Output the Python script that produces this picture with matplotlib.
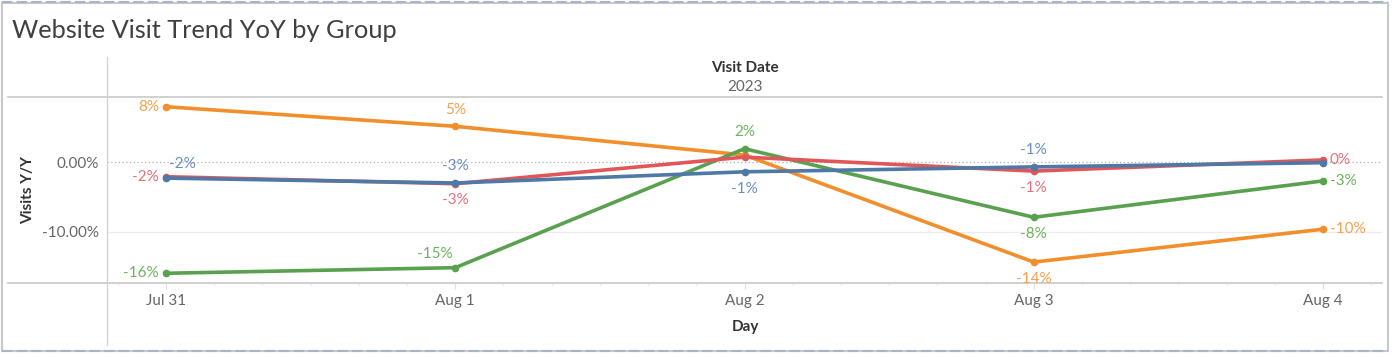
import matplotlib.pyplot as plt
from matplotlib.lines import Line2D
from matplotlib.patches import Rectangle
import matplotlib.ticker as mticker

plt.rcParams['font.family'] = ['Lato', 'DejaVu Sans']

# data
days = ['Jul 31', 'Aug 1', 'Aug 2', 'Aug 3', 'Aug 4']
orange_vals = [7.9, 5.1, 1.0, -14.3, -9.6]
red_vals = [-2.1, -3.1, 0.7, -1.3, 0.3]
blue_vals = [-2.3, -3.0, -1.4, -0.7, -0.1]
green_vals = [-15.9, -15.1, 1.9, -7.9, -2.7]

# label placement per point: (text, position) ; None = no label
orange_labels = [('8%', 'left'), ('5%', 'above'), None, ('-14%', 'below'), ('-10%', 'right')]
red_labels = [('-2%', 'left'), ('-3%', 'below'), None, ('-1%', 'below'), ('0%', 'right')]
blue_labels = [('-2%', 'aboveright'), ('-3%', 'above'), ('-1%', 'below'), ('-1%', 'above'), None]
green_labels = [('-16%', 'left'), ('-15%', 'aboveleft'), ('2%', 'above'), ('-8%', 'below'), ('-3%', 'right')]

series = [
    (orange_vals, orange_labels, '#F28E2B', '#F5A04B'),
    (green_vals, green_labels, '#59A14F', '#6DB35F'),
    (red_vals, red_labels, '#E15759', '#E8707A'),
    (blue_vals, blue_labels, '#4E79A7', '#6A8FC0'),
]

W, H = 1393, 357
fig = plt.figure(figsize=(W / 100, H / 100), dpi=100)

def fx(px):
    return px / W

def fy(py):
    return 1 - py / H

# outer border
fig.add_artist(Rectangle((fx(2), fy(351)), fx(1386), (351 - 3) / H, transform=fig.transFigure,
                         fill=False, edgecolor='#c8c8c8', linewidth=1.5))
fig.add_artist(Line2D([fx(2), fx(1388)], [fy(2), fy(2)], transform=fig.transFigure,
                      color='#aab4c8', linewidth=1.5, linestyle=(0, (5, 2))))
fig.add_artist(Line2D([fx(2), fx(1388)], [fy(351), fy(351)], transform=fig.transFigure,
                      color='#aab4c8', linewidth=1.5, linestyle=(0, (5, 2))))

fig.text(fx(12), fy(30), 'Website Visit Trend YoY by Group', fontsize=18.3, color='#404040',
         ha='left', va='center')

ax = fig.add_axes([fx(107), fy(283), fx(1382 - 107), (283 - 97) / H])
x = list(range(len(days)))
ax.set_xlim(-0.204, 4.204)
ax.set_ylim(-17.29, 9.29)

for s in ['top', 'right', 'left']:
    ax.spines[s].set_visible(False)
ax.spines['bottom'].set_color('#c8c8c8')
ax.spines['bottom'].set_linewidth(1.2)

ax.axhline(0, color='#b0b0b0', linewidth=0.9, linestyle=(0, (1, 2)), zorder=1)
ax.axhline(-10, color='#ececec', linewidth=1, zorder=1)

ax.set_yticks([0, -10])
ax.yaxis.set_major_formatter(mticker.FuncFormatter(lambda v, p: f'{v:.2f}%'))
ax.tick_params(axis='y', length=0, labelsize=11, labelcolor='#666666', pad=6)
ax.set_xticks(x)
ax.set_xticklabels(days)
ax.tick_params(axis='x', length=4, color='#e0e0e0', labelsize=11, labelcolor='#666666', pad=4)
ax.set_xticks([i / 6 for i in range(-1, 26)], minor=True)
ax.tick_params(axis='x', which='minor', length=2, color='#ececec')

offsets = {
    'left': (-5, 0, 'right', 'center'),
    'right': (5, 0, 'left', 'center'),
    'above': (0, 7, 'center', 'bottom'),
    'below': (0, -7, 'center', 'top'),
    'aboveright': (2, 5, 'left', 'bottom'),
    'aboveleft': (-2, 5, 'right', 'bottom'),
}

for vals, labels, col, tcol in series:
    ax.plot(x, vals, color=col, linewidth=2.6, marker='o', markersize=4.5, zorder=3,
            solid_capstyle='round')
    for xi, v, lab in zip(x, vals, labels):
        if lab is None:
            continue
        text, pos = lab
        dx, dy, ha, va = offsets[pos]
        ax.annotate(text, (xi, v), xytext=(dx, dy), textcoords='offset points',
                    ha=ha, va=va, fontsize=11, color=tcol, zorder=4)

# header / structure lines
fig.add_artist(Line2D([fx(8), fx(1382)], [fy(97), fy(97)], transform=fig.transFigure,
                      color='#c8c8c8', linewidth=1.2))
fig.add_artist(Line2D([fx(8), fx(107)], [fy(283), fy(283)], transform=fig.transFigure,
                      color='#c8c8c8', linewidth=1.2))
fig.add_artist(Line2D([fx(107), fx(107)], [fy(57), fy(345)], transform=fig.transFigure,
                      color='#d4d4d4', linewidth=1))

fig.text(fx(745), fy(68), 'Visit Date', fontsize=11, fontweight='bold', color='#333333',
         ha='center', va='center')
fig.text(fx(745), fy(87), '2023', fontsize=11, color='#666666', ha='center', va='center')
fig.text(fx(745), fy(327), 'Day', fontsize=11, fontweight='bold', color='#333333',
         ha='center', va='center')
fig.text(fx(28), fy(190), 'Visits Y/Y', fontsize=11, fontweight='bold', color='#333333',
         ha='center', va='center', rotation=90)

fig.savefig('out.png', dpi=100)
